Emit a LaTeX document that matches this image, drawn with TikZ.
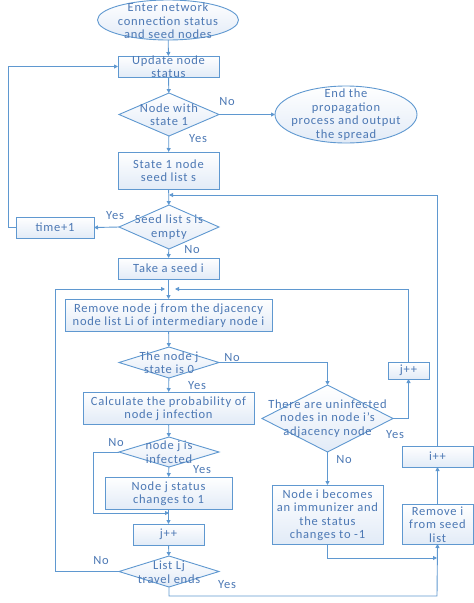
\documentclass[tikz,border=0pt]{standalone}
\usepackage{fontspec}
\setmainfont{Carlito}[LetterSpace=6]
\usetikzlibrary{shapes.geometric,arrows.meta}
\definecolor{lineblue}{RGB}{95,152,208}
\definecolor{txtblue}{RGB}{76,120,180}
\definecolor{fillblue}{RGB}{226,235,247}
\tikzset{
  shp/.style={draw=lineblue,line width=0.9pt,inner sep=0pt,outer sep=0pt,top color=white,bottom color=fillblue},
  box/.style={shp,rectangle},
  dia/.style={shp,diamond},
  ell/.style={shp,ellipse},
  txt/.style={text=txtblue,align=center,inner sep=0pt,font=\fontsize{12.5}{13.5}\selectfont},
  lbl/.style={text=txtblue,inner sep=0pt,font=\fontsize{12.5}{13.5}\selectfont},
  conn/.style={draw=lineblue,line width=0.9pt},
  arr/.style={conn,-{Triangle[length=4pt,width=4pt]}}
}
\begin{document}
\begin{tikzpicture}[x=1pt,y=-1pt]
\useasboundingbox (0,0) rectangle (474,603);
% shapes
\node[ell,minimum width=141pt,minimum height=40pt] (start) at (168,20) {};
\node[txt] (tstart) at (168,21) {Enter network\\connection status\\and seed nodes};
\node[box,minimum width=101pt,minimum height=21pt] (upd) at (168.5,66.5) {};
\node[txt] (tupd) at (168.5,66.5) {Update node\\status};
\node[dia,minimum width=100pt,minimum height=43pt] (d1) at (169,114.5) {};
\node[txt] (td1) at (169,114.5) {Node with\\state 1};
\node[ell,minimum width=142pt,minimum height=57pt] (endE) at (346,114.5) {};
\node[txt] (tend) at (346,114.5) {End the\\propagation\\process and output\\the spread};
\node[box,minimum width=101pt,minimum height=37pt] (seed) at (168.5,170.5) {};
\node[txt] (tseed) at (168.5,170.5) {State 1 node\\seed list s};
\node[dia,minimum width=100pt,minimum height=44pt] (d2) at (169,227) {};
\node[txt] (td2) at (169,227) {Seed list s is\\empty};
\node[box,minimum width=78pt,minimum height=21pt] (time) at (55,227.5) {};
\node[txt] (ttime) at (55,227.5) {time+1};
\node[box,minimum width=101pt,minimum height=21pt] (take) at (168.5,268.5) {};
\node[txt] (ttake) at (168.5,268.5) {Take a seed i};
\node[box,minimum width=207pt,minimum height=32pt] (remove) at (168.5,315) {};
\node[txt] (tremove) at (168.5,315.5) {Remove node j from the djacency\\node list Li of intermediary node i};
\node[dia,minimum width=100pt,minimum height=31pt] (d3) at (169,362.5) {};
\node[txt] (td3) at (169,362.5) {The node j\\state is 0};
\node[box,minimum width=171pt,minimum height=32pt] (calc) at (168.5,408) {};
\node[txt] (tcalc) at (168.5,408.5) {Calculate the probability of\\node j infection};
\node[dia,minimum width=100pt,minimum height=30pt] (d4) at (169,452) {};
\node[txt] (td4) at (169,452) {node j is\\infected};
\node[box,minimum width=127pt,minimum height=32pt] (chg) at (168.5,493) {};
\node[txt] (tchg) at (168.5,493.5) {Node j status\\changes to 1};
\node[box,minimum width=71pt,minimum height=21pt] (jpp) at (168.5,534.5) {};
\node[txt] (tjpp) at (168.5,534.5) {j++};
\node[dia,minimum width=100pt,minimum height=31pt] (d5) at (169,571.5) {};
\node[txt] (td5) at (169,572) {List Lj\\travel ends};
\node[dia,minimum width=131pt,minimum height=67pt] (d6) at (327.5,418.5) {};
\node[txt] (td6) at (327.5,418.5) {There are uninfected\\nodes in node i's\\adjacency node};
\node[box,minimum width=41pt,minimum height=17pt] (jpp2) at (408.5,370.5) {};
\node[txt] (tjpp2) at (408.5,370.5) {j++};
\node[box,minimum width=111pt,minimum height=59pt] (imm) at (327.5,514.5) {};
\node[txt] (timm) at (327.5,515) {Node i becomes\\an immunizer and\\the status\\changes to -1};
\node[box,minimum width=71pt,minimum height=21pt] (ipp) at (437.5,456.5) {};
\node[txt] (tipp) at (437.5,456.5) {i++};
\node[box,minimum width=71pt,minimum height=40pt] (remi) at (437.5,524) {};
\node[txt] (tremi) at (437.5,524.5) {Remove i\\from seed\\list};
% coordinates
\coordinate (jl) at (165,289);
\coordinate (jr) at (175,289);
\coordinate (jb) at (169,513);
\coordinate (jt) at (169,195);
\coordinate (jim) at (437,558);
% connectors
\draw[arr] (start) -- (upd);
\draw[arr] (upd) -- (d1);
\draw[arr] (d1.east) -- (endE.west);
\draw[arr] (d1) -- (seed);
\draw[arr] (seed) -- (d2);
\draw[arr] (d2.west) -- (time.east);
\draw[arr] (time.west) -- (8,227.5) |- (upd.west);
\draw[arr] (d2) -- (take);
\draw[arr] (take) -- (remove);
\draw[arr] (remove) -- (d3);
\draw[arr] (d3.east) -| (d6.north);
\draw[arr] (d3) -- (calc);
\draw[arr] (calc) -- (d4);
\draw[arr] (d4.west) -| (93,513) -- (jb);
\draw[arr] (d4) -- (chg);
\draw[arr] (chg) -- (jpp);
\draw[arr] (jpp) -- (d5);
\draw[arr] (d5.west) -| (55,289) -- (jl);
\draw[arr] (d5.south) |- (437,596) -- (remi.south);
\draw[arr] (d6.east) -| (jpp2.south);
\draw[arr] (jpp2.north) |- (jr);
\draw[arr] (d6.south) -- (imm.north);
\draw[arr] (imm.south) |- (jim);
\draw[arr] (remi.north) -- (ipp.south);
\draw[arr] (ipp.north) |- (jt);
% labels
\node[lbl] (l1) at (227,102) {No};
\node[lbl] (l2) at (198,139) {Yes};
\node[lbl] (l3) at (115,216) {Yes};
\node[lbl] (l4) at (192,250) {No};
\node[lbl] (l5) at (232,358) {No};
\node[lbl] (l6) at (197,386) {Yes};
\node[lbl] (l7) at (116,443) {No};
\node[lbl] (l8) at (202,470) {Yes};
\node[lbl] (l9) at (101,561) {No};
\node[lbl] (l10) at (227,585) {Yes};
\node[lbl] (l11) at (395,435) {Yes};
\node[lbl] (l12) at (344,460) {No};
\end{tikzpicture}
\end{document}
